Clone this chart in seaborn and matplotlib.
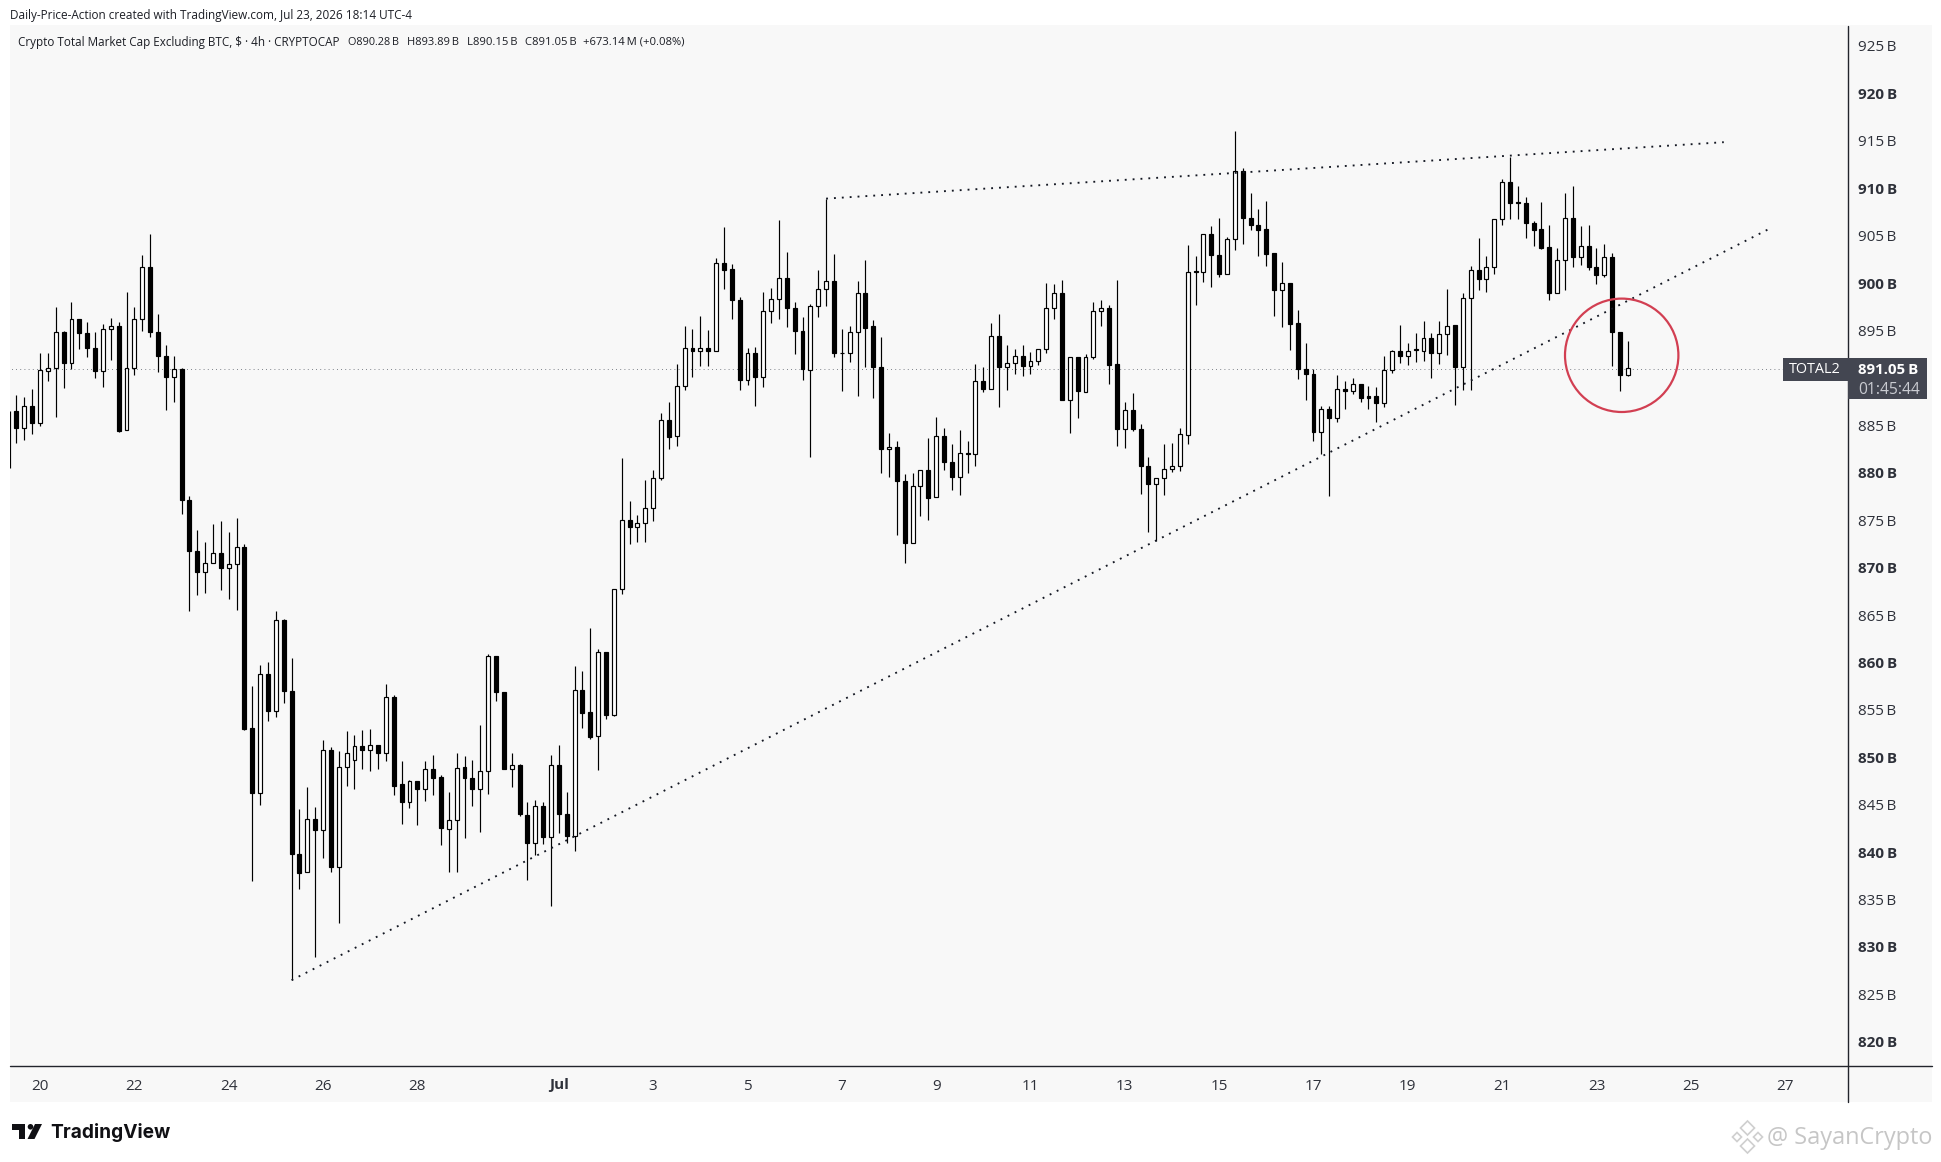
import numpy as np
import pandas as pd
import seaborn as sns
import matplotlib
matplotlib.use("Agg")
import matplotlib.pyplot as plt
from matplotlib.patches import Rectangle, Ellipse, Polygon
from matplotlib.lines import Line2D

# ---------- data (4h candles, billions USD) ----------
highs = [886.5, 888.2, 888.0, 888.8, 892.6, 892.6, 897.5, 894.9, 898.0, 896.2,
         895.9, 894.8, 895.7, 896.3, 895.9, 899.1, 897.5, 903.0, 905.2, 896.7,
         893.5, 892.3, 891.0, 877.5, 874.0, 872.7, 874.6, 874.9, 873.7, 875.2,
         872.5, 857.5, 859.7, 860.0, 865.4, 864.6, 860.5, 844.5, 846.9, 844.8,
         851.8, 851.1, 850.7, 852.8, 852.4, 852.9, 853.0, 851.3, 857.7, 856.6,
         849.6, 847.6, 847.5, 849.6, 850.2, 848.1, 846.3, 850.5, 850.1, 849.7,
         853.4, 860.9, 860.7, 856.9, 850.5, 849.3, 845.3, 845.5, 845.3, 850.2,
         851.3, 846.3, 859.6, 859.1, 863.6, 861.4, 861.1, 867.7, 881.6, 877.0,
         875.5, 879.2, 880.3, 886.3, 887.5, 891.5, 895.5, 895.2, 896.5, 895.1,
         902.6, 905.9, 902.0, 898.5, 893.1, 893.3, 899.1, 899.5, 906.6, 903.3,
         898.0, 896.4, 897.8, 901.4, 908.9, 903.1, 895.2, 895.5, 900.2, 902.4,
         896.1, 894.3, 884.2, 883.3, 879.9, 880.0, 880.3, 883.7, 885.9, 884.7,
         883.0, 884.5, 883.3, 891.5, 891.2, 895.8, 896.7, 893.5, 893.0, 893.5,
         892.7, 893.0, 900.0, 899.9, 900.3, 892.2, 892.2, 892.5, 898.0, 898.2,
         897.7, 900.3, 887.5, 888.4, 885.1, 881.7, 879.4, 883.0, 883.1, 884.7,
         904.0, 902.8, 905.2, 906.0, 906.9, 904.9, 916.0, 912.1, 909.5, 907.8,
         908.6, 903.2, 902.2, 900.0, 897.2, 893.7, 890.9, 887.0, 887.0, 890.3,
         889.7, 890.0, 889.4, 889.1, 889.0, 892.3, 892.9, 895.6, 893.7, 894.7,
         896.0, 894.7, 896.0, 899.4, 895.6, 899.0, 901.8, 904.8, 902.8, 906.8,
         911.0, 913.3, 910.2, 909.1, 906.5, 908.5, 906.1, 903.7, 909.5, 910.2,
         906.0, 906.1, 903.7, 904.1, 903.2, 894.8, 893.89]
lows = [880.5, 883.1, 883.4, 884.1, 884.9, 889.7, 885.9, 888.9, 890.9, 893.0,
        892.2, 890.0, 889.0, 891.9, 884.3, 884.5, 890.3, 894.9, 894.3, 890.6,
        886.6, 887.5, 875.7, 865.4, 867.1, 867.3, 870.5, 867.6, 866.7, 865.5,
        852.9, 837.0, 845.0, 853.8, 854.2, 855.7, 826.5, 836.1, 837.9, 828.9,
        839.4, 837.9, 832.5, 847.0, 846.7, 848.8, 848.6, 848.8, 849.6, 846.0,
        843.0, 844.7, 842.9, 845.4, 846.0, 840.7, 837.9, 837.9, 841.5, 844.9,
        842.1, 846.1, 855.9, 848.8, 846.9, 843.8, 837.1, 839.7, 840.9, 834.3,
        842.0, 841.0, 840.1, 853.1, 851.9, 848.7, 854.0, 854.4, 867.2, 872.5,
        872.7, 872.7, 874.9, 879.2, 882.5, 882.8, 888.7, 890.1, 891.3, 891.3,
        892.8, 899.4, 896.2, 888.7, 889.2, 887.0, 889.0, 895.8, 896.2, 895.4,
        892.5, 889.8, 881.7, 896.4, 897.6, 892.2, 888.6, 891.7, 888.1, 891.2,
        887.9, 880.0, 879.6, 873.4, 870.5, 872.6, 875.4, 875.0, 877.4, 880.3,
        878.2, 877.6, 880.0, 880.7, 888.5, 888.8, 886.9, 888.7, 890.4, 890.2,
        890.4, 891.4, 892.6, 896.2, 887.7, 884.2, 885.8, 888.5, 892.0, 895.5,
        889.4, 882.8, 882.6, 884.4, 877.8, 873.7, 872.8, 877.6, 880.1, 880.2,
        883.0, 897.7, 900.1, 899.6, 900.6, 900.9, 903.5, 904.1, 905.6, 902.9,
        901.8, 896.5, 895.4, 892.9, 889.9, 887.7, 883.3, 882.0, 877.5, 885.3,
        886.7, 888.3, 887.5, 886.7, 885.3, 886.9, 890.5, 891.6, 891.4, 891.7,
        891.8, 890.0, 891.5, 892.4, 887.1, 888.7, 888.7, 899.3, 899.1, 900.9,
        906.1, 906.8, 906.7, 904.7, 903.9, 903.6, 898.2, 899.0, 899.3, 901.7,
        901.9, 901.4, 899.9, 900.6, 891.3, 888.6, 890.15]
opens = [884.0, 886.5, 884.7, 887.0, 885.2, 890.7, 891.0, 894.8, 891.6, 896.2,
         894.7, 893.2, 890.7, 895.2, 895.5, 884.5, 891.0, 896.2, 901.7, 894.8,
         892.3, 890.1, 890.9, 877.1, 871.8, 869.5, 870.5, 871.5, 870.0, 870.4,
         872.2, 853.1, 846.2, 858.8, 854.9, 864.5, 857.0, 839.8, 837.9, 843.5,
         842.3, 850.8, 838.4, 849.0, 849.7, 851.2, 850.8, 851.3, 850.5, 856.4,
         847.2, 845.3, 847.5, 846.7, 848.8, 847.9, 842.4, 843.4, 849.0, 847.8,
         846.7, 848.6, 860.7, 856.9, 848.8, 849.2, 843.9, 841.0, 844.9, 841.6,
         849.2, 844.0, 841.7, 857.1, 854.8, 852.2, 861.1, 854.5, 867.7, 875.0,
         874.3, 874.7, 876.3, 879.4, 885.6, 883.9, 889.1, 893.2, 892.8, 893.1,
         892.8, 902.1, 901.5, 898.2, 889.8, 892.6, 890.1, 897.1, 898.3, 900.5,
         897.4, 894.9, 890.8, 897.6, 899.4, 900.2, 892.6, 892.6, 894.8, 899.0,
         895.5, 891.1, 882.5, 882.7, 879.1, 872.6, 878.6, 880.3, 877.4, 883.9,
         881.1, 879.5, 882.1, 882.0, 889.7, 888.8, 894.4, 891.1, 891.6, 892.3,
         891.3, 891.8, 893.0, 897.4, 899.0, 887.7, 892.2, 888.5, 892.2, 897.1,
         897.4, 891.5, 884.6, 886.6, 884.6, 880.7, 878.8, 879.4, 880.4, 880.7,
         884.0, 901.3, 901.2, 905.2, 903.0, 900.9, 904.6, 911.8, 906.9, 906.1,
         905.7, 903.2, 899.3, 900.0, 895.8, 890.9, 890.4, 884.3, 886.7, 885.8,
         888.8, 888.6, 889.4, 888.1, 888.1, 887.3, 890.8, 892.8, 892.3, 892.9,
         892.8, 894.2, 892.6, 894.6, 895.6, 891.1, 898.4, 901.4, 900.4, 901.7,
         906.8, 910.6, 908.5, 908.4, 906.3, 905.7, 903.8, 899.0, 902.4, 906.9,
         902.7, 903.9, 901.7, 900.8, 902.7, 894.8, 890.28]
closes = [884.0, 884.7, 887.0, 885.2, 890.8, 891.0, 894.8, 891.6, 896.2, 894.7,
          893.2, 890.7, 895.2, 895.5, 884.4, 891.0, 896.2, 901.7, 894.8, 892.3,
          890.1, 890.9, 877.1, 871.8, 869.5, 870.5, 871.5, 870.0, 870.4, 872.2,
          853.0, 846.2, 858.8, 854.9, 864.5, 857.0, 839.8, 837.8, 843.5, 842.3,
          850.8, 838.4, 849.0, 850.4, 851.2, 850.8, 851.3, 850.5, 856.4, 847.0,
          845.3, 847.5, 846.7, 848.8, 847.8, 842.5, 843.4, 848.9, 847.8, 846.7,
          848.6, 860.7, 856.9, 848.8, 849.2, 844.0, 841.0, 844.9, 841.6, 849.2,
          844.0, 841.7, 857.1, 854.7, 852.1, 861.1, 854.5, 867.7, 875.0, 874.3,
          874.7, 876.3, 879.4, 885.6, 883.8, 889.1, 893.2, 892.8, 893.1, 892.8,
          902.1, 901.4, 898.2, 889.8, 892.6, 890.1, 897.1, 898.3, 900.5, 897.4,
          894.9, 890.9, 897.6, 899.4, 900.2, 892.6, 892.6, 894.8, 899.0, 895.3,
          891.1, 882.5, 882.7, 879.1, 872.6, 878.6, 880.3, 877.3, 883.9, 881.1,
          879.5, 882.1, 882.0, 889.7, 888.8, 894.4, 891.1, 891.6, 892.3, 891.3,
          891.8, 893.0, 897.4, 899.0, 887.7, 892.2, 888.6, 892.2, 897.1, 897.4,
          891.4, 884.6, 886.6, 884.6, 880.7, 878.8, 879.4, 880.4, 880.7, 884.1,
          901.2, 901.2, 905.2, 903.0, 900.9, 904.6, 911.8, 906.9, 906.1, 905.6,
          903.1, 899.3, 900.0, 895.7, 890.9, 890.4, 884.3, 886.7, 885.8, 888.8,
          888.6, 889.4, 887.9, 887.9, 887.3, 890.8, 892.8, 892.3, 892.8, 893.0,
          894.2, 892.6, 894.6, 895.5, 891.1, 898.4, 901.4, 900.4, 901.7, 906.8,
          910.6, 908.4, 908.4, 906.3, 905.6, 903.7, 898.9, 902.4, 906.9, 902.7,
          903.9, 901.7, 900.8, 902.7, 894.8, 890.3, 891.05]

price_ticks = [p for p in range(820, 930, 5) if p != 890]  # 890 B is hidden by the price tag
day_tick_labels = ["20", "22", "24", "26", "28", "Jul", "3", "5", "7", "9", "11", "13",
                   "15", "17", "19", "21", "23", "25", "27"]
day_tick_offsets = [0, 2, 4, 6, 8, 11, 13, 15, 17, 19, 21, 23, 25, 27, 29, 31, 33, 35, 37]

lower_trend_idx = [36, 224.3]
lower_trend_price = [826.5, 905.85]
upper_trend_idx = [104, 218.2]
upper_trend_price = [908.9, 914.85]
last_price_line = 890.9

W, H = 1941, 1162
INK = "#131722"
TXT = "#2e313a"
PANEL = "#f8f8f8"

sns.set_theme(style="white", rc={"axes.facecolor": PANEL, "figure.facecolor": "white"})
plt.rcParams["font.family"] = ["Open Sans", "DejaVu Sans"]

fig = plt.figure(figsize=(W / 100, H / 100), dpi=100)


def fx(x):
    return x / W


def fy(y):
    return 1 - y / H


def fit_text(x, y, s, width=None, size=9, color=TXT, ha="left", va="center", weight="normal",
             family=None, zorder=12):
    t = fig.text(fx(x), fy(y), s, fontsize=size, color=color, ha=ha, va=va, weight=weight, zorder=zorder)
    if family:
        t.set_family(family)
    if width:
        r = fig.canvas.get_renderer()
        w = t.get_window_extent(r).width
        t.set_fontsize(size * width / w)
    return t


# panel background behind the plot
fig.add_artist(Rectangle((fx(10), fy(1102)), fx(1932 - 10), (1102 - 25) / H, transform=fig.transFigure,
                         facecolor=PANEL, edgecolor="none", zorder=-5))

ax_left, ax_right, ax_top, ax_bottom = 10, 1848, 26, 1066
ax = fig.add_axes([fx(ax_left), fy(ax_bottom), (ax_right - ax_left) / W, (ax_bottom - ax_top) / H])

n = len(highs)
idx = np.arange(n, dtype=float)
idx[0] = 0.22  # partly cut candle on the left edge: only its wick is visible

df = pd.DataFrame({"idx": idx, "open": opens, "high": highs, "low": lows, "close": closes})
wick_df = pd.concat([
    df[["idx", "high"]].rename(columns={"high": "price"}).assign(candle=np.arange(n)),
    df[["idx", "low"]].rename(columns={"low": "price"}).assign(candle=np.arange(n)),
])

# last price line
price_df = pd.DataFrame({"idx": [-5, 300], "price": [last_price_line, last_price_line]})
sns.lineplot(data=price_df, x="idx", y="price", ax=ax, color="#555b66", linewidth=0.6,
             linestyle=(0, (1, 4)), errorbar=None, zorder=1)

# wicks
sns.lineplot(data=wick_df, x="idx", y="price", units="candle", estimator=None, ax=ax, color="black",
             linewidth=0.85, solid_capstyle="butt", zorder=2, sort=False)

# bodies
up = df["close"] >= df["open"]
bottom = df[["open", "close"]].min(axis=1)
height = (df["close"] - df["open"]).abs()
body = df.index[1:]
ax.bar(df["idx"][body], height[body], bottom=bottom[body], width=0.5,
       color=np.where(up[body], "white", "black"), edgecolor="black", linewidth=0.85, zorder=3)

# trend lines
dot = (0, (1, 3.2))
for xs, ys in ((lower_trend_idx, lower_trend_price), (upper_trend_idx, upper_trend_price)):
    sns.lineplot(x=xs, y=ys, ax=ax, color=INK, linewidth=1.35, linestyle=dot, errorbar=None, zorder=4)

ax.set_xlim(0.178, 234.0)
ax.set_ylim(817.45, 927.1)
ax.set_xlabel("")
ax.set_ylabel("")
for s in ax.spines.values():
    s.set_visible(False)

ax.set_xticks([4 + 6 * d for d in day_tick_offsets])
ax.set_xticklabels(day_tick_labels)
ax.yaxis.tick_right()
ax.set_yticks(price_ticks)
ax.set_yticklabels([f"{p}\u2009B" for p in price_ticks])
ax.tick_params(axis="x", length=0, pad=9, labelsize=11, labelcolor=TXT)
ax.tick_params(axis="y", length=0, pad=7.5, labelsize=11, labelcolor=TXT)
for lab, p in zip(ax.get_yticklabels(), price_ticks):
    if p % 10 == 0:
        lab.set_fontweight("bold")
for lab in ax.get_xticklabels():
    if lab.get_text() == "Jul":
        lab.set_fontweight("bold")

# axis lines
fig.add_artist(Line2D([fx(10), fx(1932)], [fy(1066), fy(1066)], color="#22252c", linewidth=1.0, zorder=8))
fig.add_artist(Line2D([fx(1848), fx(1848)], [fy(26), fy(1102)], color="#22252c", linewidth=1.0, zorder=8))

# red circle
fig.add_artist(Ellipse((fx(1621.7), fy(355.3)), 113.4 / W, 113.4 / H, transform=fig.transFigure,
                       facecolor="none", edgecolor="#d23f52", linewidth=1.6, zorder=9))

# price labels
BOX = "#434651"
fig.add_artist(Rectangle((fx(1783), fy(380.7)), 64.7 / W, 22.4 / H, transform=fig.transFigure,
                         facecolor=BOX, edgecolor="none", zorder=10))
fig.add_artist(Rectangle((fx(1848), fy(399.3)), 78.7 / W, 41 / H, transform=fig.transFigure,
                         facecolor=BOX, edgecolor="none", zorder=10))
fit_text(1788.5, 369.5, "TOTAL2", width=52, color="white")
fit_text(1858, 369.5, "891.05\u2009B", width=60, color="white", weight="bold")
fit_text(1858, 389.5, "01:45:44", width=62, color="#c9cbd1")

# header texts
fit_text(9.5, 15, "Daily-Price-Action created with TradingView.com, Jul 23, 2026 18:14 UTC-4", width=406, color="#1c1e25")
fit_text(18, 42.5, "Crypto Total Market Cap Excluding BTC, $ \u00b7 4h \u00b7 CRYPTOCAP", width=322, color="#1c1e25")
for x0, wd, s in ((348, 51, "O890.28\u2009B"), (407, 52, "H893.89\u2009B"), (467, 50, "L890.15\u2009B"),
                  (525, 51, "C891.05\u2009B"), (583, 101, "+673.14\u2009M (+0.08%)")):
    fit_text(x0, 42.5, s, width=wd, color="#1c1e25")

# TradingView logo
fig.add_artist(Polygon([(fx(12), fy(1124)), (fx(25), fy(1124)), (fx(25), fy(1139)), (fx(18.5), fy(1139)),
                        (fx(18.5), fy(1130)), (fx(12), fy(1130))], closed=True, transform=fig.transFigure,
                       facecolor="#101014", edgecolor="none", zorder=10))
fig.add_artist(Polygon([(fx(35), fy(1124)), (fx(42), fy(1124)), (fx(34.5), fy(1139)), (fx(27.5), fy(1139))],
                       closed=True, transform=fig.transFigure, facecolor="#101014", edgecolor="none", zorder=10))
fig.add_artist(Ellipse((fx(30.5), fy(1126.8)), 5.6 / W, 5.6 / H, transform=fig.transFigure,
                       facecolor="#101014", edgecolor="none", zorder=10))
t = fit_text(50, 1132, "TradingView", width=120, color="#101014", weight="bold")
t.set_family(["Inter", "DejaVu Sans"])
r = fig.canvas.get_renderer()
t.set_fontsize(t.get_fontsize() * 120 / t.get_window_extent(r).width)

# watermark
GREY = "#cfcfcf"
for (cx, cy, rad) in ((1747.5, 1128, 7), (1747.5, 1146, 7), (1737, 1137, 4.5), (1758, 1137, 4.5)):
    fig.add_artist(Polygon([(fx(cx), fy(cy - rad)), (fx(cx + rad), fy(cy)), (fx(cx), fy(cy + rad)), (fx(cx - rad), fy(cy))],
                           closed=True, transform=fig.transFigure, facecolor="none", edgecolor=GREY,
                           linewidth=1.2, zorder=10))
fit_text(1767, 1138, "@ SayanCrypto", width=166, color="#c6c6c6")

fig.savefig("out.png", dpi=100, facecolor="white")
